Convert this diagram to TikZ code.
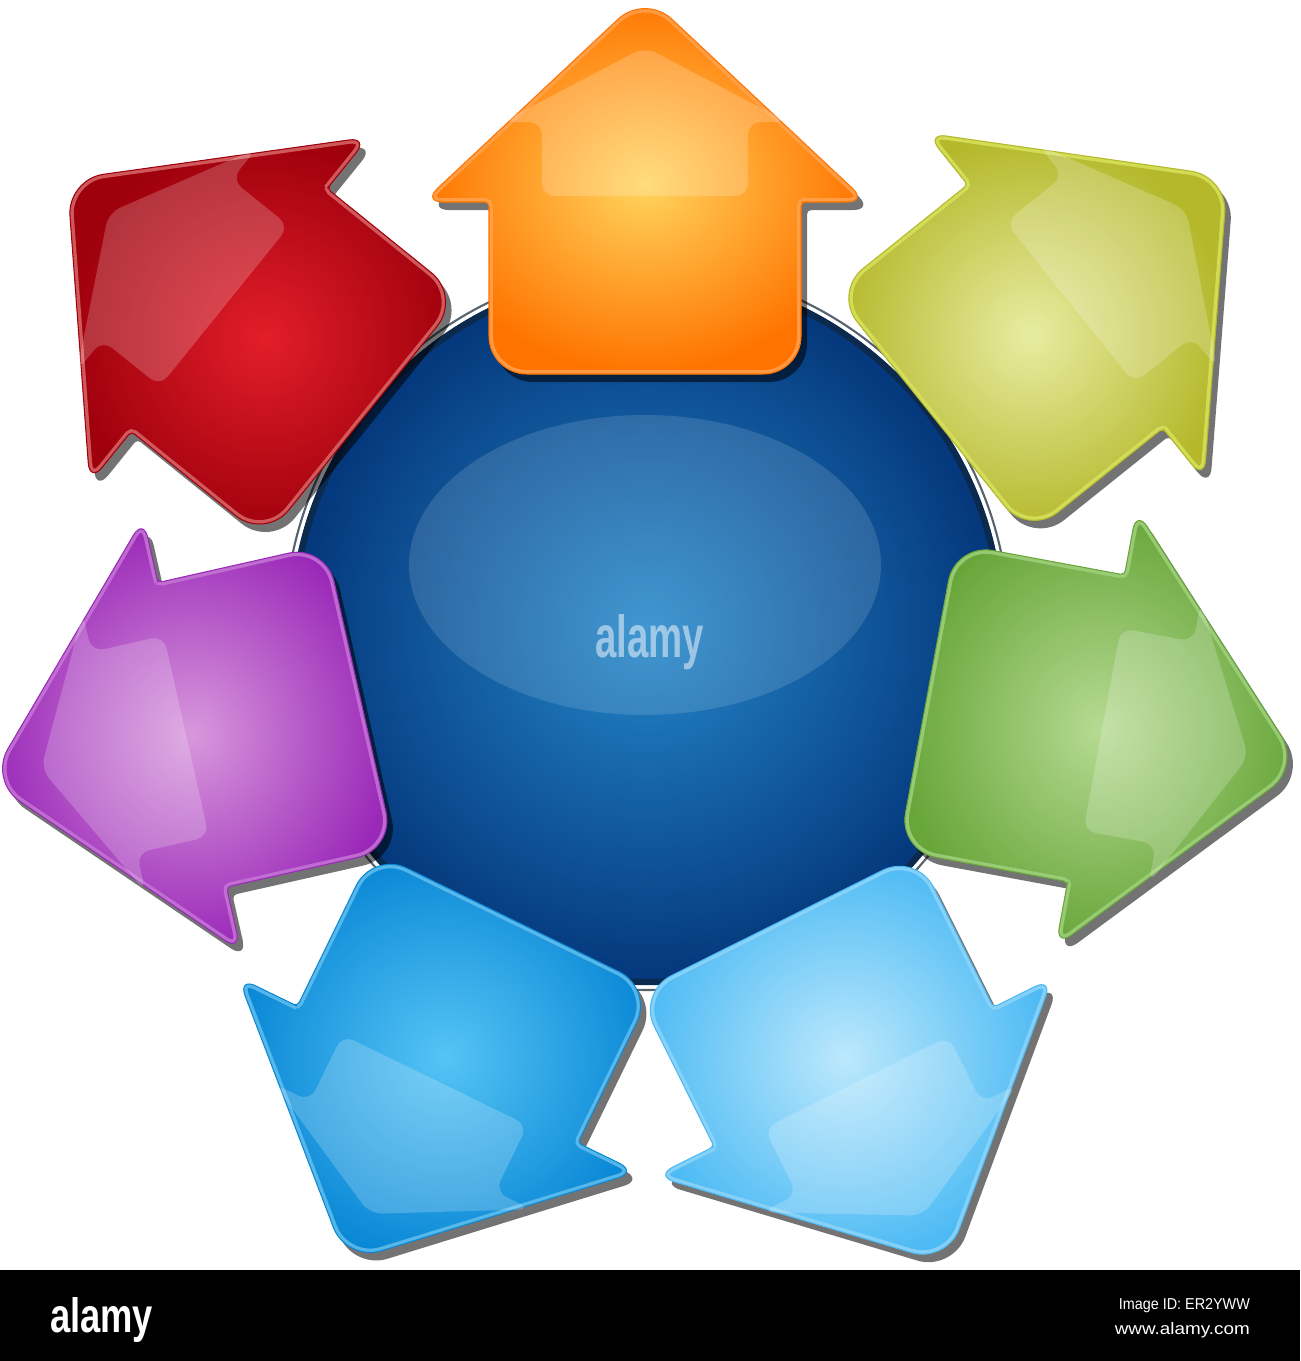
\documentclass[tikz,border=0pt]{standalone}
\usepackage{fontspec}
\setmainfont{Liberation Sans}
\newlength\px
\setlength\px{1.42264pt}
\definecolor{orOut}{HTML}{FF7300}\definecolor{orIn}{HTML}{FFD45C}\definecolor{orRim}{HTML}{FFA24E}
\definecolor{rdOut}{HTML}{9E000C}\definecolor{rdIn}{HTML}{E21E2A}\definecolor{rdRim}{HTML}{D86868}
\definecolor{ygOut}{HTML}{B4B82A}\definecolor{ygIn}{HTML}{E8ECA2}\definecolor{ygRim}{HTML}{D8E25C}
\definecolor{gnOut}{HTML}{68A63A}\definecolor{gnIn}{HTML}{B6DA92}\definecolor{gnRim}{HTML}{A0D07C}
\definecolor{puOut}{HTML}{9A28B8}\definecolor{puIn}{HTML}{D898DC}\definecolor{puRim}{HTML}{C476D4}
\definecolor{blOut}{HTML}{0A88D6}\definecolor{blIn}{HTML}{55C4F5}\definecolor{blRim}{HTML}{62BEEC}
\definecolor{lbOut}{HTML}{4CBAF4}\definecolor{lbIn}{HTML}{BCE8FC}\definecolor{lbRim}{HTML}{8ED4F8}
\definecolor{circIn}{HTML}{2488CB}\definecolor{circOut}{HTML}{04367A}\definecolor{circRing}{HTML}{0B2A4E}
\definecolor{circEdge}{HTML}{56636E}
\tikzset{
  arrshadow/.style={fill=black, opacity=0.55},
  arrgloss/.style={fill=white, opacity=0.2, rounded corners=18pt},
}
% arrow outline along +x: base at x=0, apex at x=380; each corner has its own rounding
\def\ArrPath{(0,0) [rounded corners=54pt] -- (0,-156) -- (86,-156)
  [rounded corners=6pt] -- (172,-156) -- (172,-176)
  [rounded corners=28pt] -- (172,-222) -- (276,-111)
  [rounded corners=52pt] -- (380,0) -- (276,111)
  [rounded corners=28pt] -- (172,222) -- (172,176)
  [rounded corners=6pt] -- (172,156) -- (86,156)
  [rounded corners=54pt] -- (0,156) -- cycle}
\def\GlossPath{(178,-103) -- (252,-103) -- (252,-143) -- (327,0) -- (252,143) -- (252,103) -- (178,103) -- cycle}
\newcommand\ArrShadow[3]{\begin{scope}[shift={(#1+6,#2+8)},rotate=#3]\fill[arrshadow] \ArrPath;\end{scope}}
\newcommand\ArrBody[7]{%
  \begin{scope}[shift={(#2,#3)},rotate=#4]
    \coordinate (#1) at (190,0);
    \shade[inner color=#6, outer color=#5] \ArrPath;
    \begin{scope}
      \clip \ArrPath;
      \draw[draw=#7, line width=11pt, opacity=0.85] \ArrPath;
    \end{scope}
    \draw[draw=#5, line width=1.5pt] \ArrPath;
    \fill[arrgloss] \GlossPath;
  \end{scope}}
\begin{document}
\begin{tikzpicture}[x=0.05cm, y=-0.05cm]
\useasboundingbox (0,0) rectangle (1300,1361);
\fill[white] (0,0) rectangle (1300,1361);
% central disc
\coordinate (hub) at (647,628);
\draw[circEdge, line width=3pt] (hub) circle[radius=18.1cm];
\shade[inner color=circIn, outer color=circOut] (hub) circle[radius=17.85cm];
\draw[circRing, line width=9pt] (hub) circle[radius=17.7cm];
\fill[white, opacity=0.13] (645,565) ellipse[x radius=11.8cm, y radius=7.5cm];
\node[anchor=base west, inner sep=0, text=white, text opacity=0.5] (wm) at (595,657) {\resizebox{109\px}{43\px}{\bfseries alamy}};
% shadows
\ArrShadow{645}{374}{90}
\ArrShadow{363}{418}{141.1}
\ArrShadow{931}{414}{38.7}
\ArrShadow{927}{697}{-10.5}
\ArrShadow{360}{697}{192.7}
\ArrShadow{513}{920}{-116}
\ArrShadow{777}{923}{-63.5}
% arrows
\ArrBody{orange}{645}{374}{90}{orOut}{orIn}{orRim}
\ArrBody{red}{363}{418}{141.1}{rdOut}{rdIn}{rdRim}
\ArrBody{yellowgreen}{931}{414}{38.7}{ygOut}{ygIn}{ygRim}
\ArrBody{green}{927}{697}{-10.5}{gnOut}{gnIn}{gnRim}
\ArrBody{purple}{360}{697}{192.7}{puOut}{puIn}{puRim}
\ArrBody{blue}{513}{920}{-116}{blOut}{blIn}{blRim}
\ArrBody{lightblue}{777}{923}{-63.5}{lbOut}{lbIn}{lbRim}
% footer bar
\fill[black] (0,1270) rectangle (1300,1361);
\node[anchor=base west, inner sep=0, text=white] (brand) at (50,1332) {\resizebox{103\px}{35\px}{\bfseries alamy}};
\node[anchor=base east, inner sep=0, text=white] (imgid) at (1250,1309) {\resizebox{131\px}{11\px}{Image ID: ER2YWW}};
\node[anchor=base east, inner sep=0, text=white] (site) at (1250,1334) {\resizebox{135\px}{12\px}{www.alamy.com}};
\end{tikzpicture}
\end{document}
